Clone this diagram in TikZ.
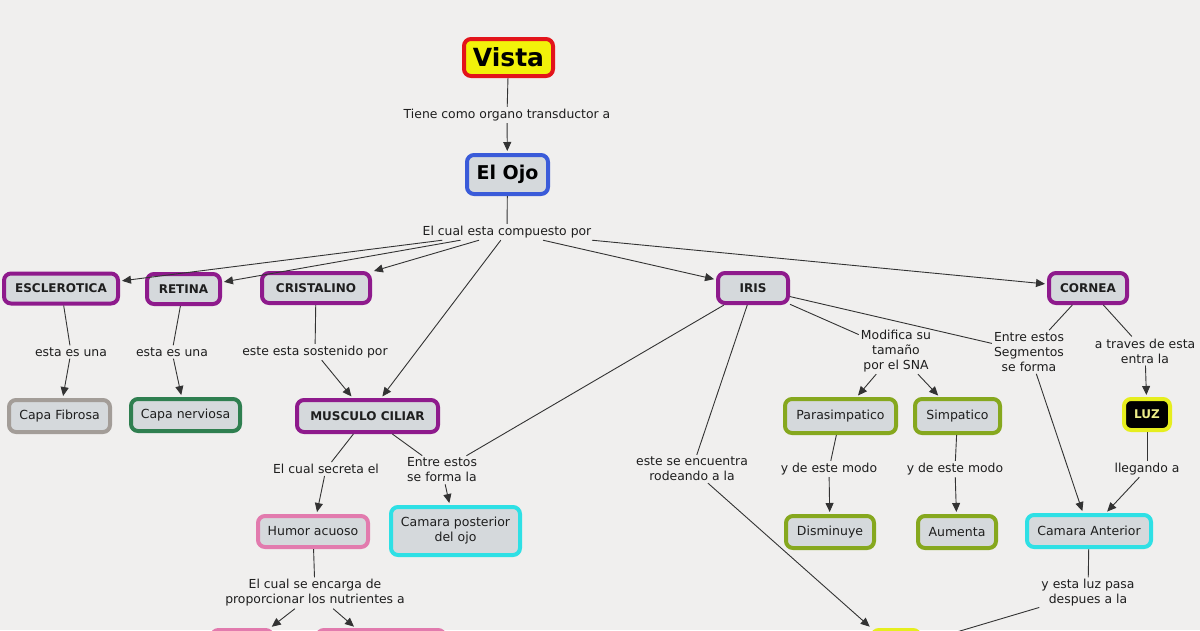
\documentclass[tikz,border=0pt]{standalone}
\usepackage{fontspec}
\setmainfont{DejaVu Sans}
\usetikzlibrary{arrows.meta}
\definecolor{bg}{HTML}{F0EFEE}
\definecolor{boxfill}{HTML}{D5D9DC}
\definecolor{cpurple}{HTML}{8E1A8C}
\definecolor{cred}{HTML}{E3141B}
\definecolor{cyellow}{HTML}{F2F20A}
\definecolor{cluz}{HTML}{E6EE1E}
\definecolor{cluztext}{HTML}{EEEE88}
\definecolor{cblue}{HTML}{3A5BD9}
\definecolor{cgray}{HTML}{A39D98}
\definecolor{cgreen}{HTML}{2F7F50}
\definecolor{cpink}{HTML}{E27BAE}
\definecolor{ccyan}{HTML}{2EE0E5}
\definecolor{colive}{HTML}{86A81E}
\definecolor{cline}{HTML}{333333}
\definecolor{ctxt}{HTML}{1E1E1E}
\begin{document}
\begin{tikzpicture}[x=1pt,y=-1pt,
  box/.style={draw=#1, line width=4pt, fill=boxfill, rounded corners=7pt, inner sep=0pt,
    font=\fontsize{12.5}{15}\selectfont, text=ctxt, align=center},
  bbox/.style={box=#1, font=\bfseries\fontsize{12}{14}\selectfont},
  lbl/.style={font=\fontsize{12.4}{15}\selectfont, align=center, text=ctxt, inner sep=2pt},
  conn/.style={draw=cline, line width=0.9pt},
  arr/.style={conn, -{Triangle[length=9pt,width=8pt]}, shorten >=2pt}]
\useasboundingbox (0,0) rectangle (1200,630);
\fill[bg] (0,0) rectangle (1200,630);
\clip (0,0) rectangle (1200,630);

% concept nodes
\node[box=cred, fill=cyellow, font=\bfseries\fontsize{25}{28}\selectfont, text=black, minimum width=89pt, minimum height=37pt] (vista) at (508.5,57.5) {Vista};
\node[box=cblue, font=\bfseries\fontsize{19}{22}\selectfont, text=black, minimum width=81pt, minimum height=39pt] (ojo) at (507.5,174.5) {El Ojo};
\node[bbox=cpurple, minimum width=114pt, minimum height=30pt] (escl) at (61,288.5) {ESCLEROTICA};
\node[bbox=cpurple, minimum width=73pt, minimum height=30pt] (ret) at (183.5,289) {RETINA};
\node[bbox=cpurple, minimum width=108pt, minimum height=30pt] (cris) at (316,288) {CRISTALINO};
\node[bbox=cpurple, minimum width=70pt, minimum height=30pt] (iris) at (753,288) {IRIS};
\node[bbox=cpurple, minimum width=78pt, minimum height=30pt] (corn) at (1088,288) {CORNEA};
\node[box=cgray, minimum width=101pt, minimum height=32pt] (fib) at (59.5,416) {Capa Fibrosa};
\node[box=cgreen, minimum width=109pt, minimum height=32pt] (nerv) at (185.5,415) {Capa nerviosa};
\node[bbox=cpurple, minimum width=141pt, minimum height=32pt] (musc) at (367.5,416) {MUSCULO CILIAR};
\node[box=cpink, minimum width=110pt, minimum height=31pt] (humor) at (313,531.5) {Humor acuoso};
\node[box=ccyan, minimum width=129pt, minimum height=48pt] (cpost) at (455.5,531) {Camara posterior\\del ojo};
\node[box=colive, minimum width=111pt, minimum height=34pt] (para) at (840.5,416) {Parasimpatico};
\node[box=colive, minimum width=85pt, minimum height=34pt] (simp) at (957.5,416) {Simpatico};
\node[box=colive, minimum width=88pt, minimum height=32pt] (dism) at (830,532) {Disminuye};
\node[box=colive, minimum width=78pt, minimum height=32pt] (aum) at (957,532) {Aumenta};
\node[bbox=cluz, fill=black, text=cluztext, minimum width=46pt, minimum height=31pt] (luz) at (1147,414.5) {LUZ};
\node[box=ccyan, minimum width=124pt, minimum height=32pt] (cant) at (1089,531) {Camara Anterior};
\node[box=cpink, minimum width=61pt, minimum height=40pt] (pinkA) at (242,650) {};
\node[box=cpink, minimum width=128pt, minimum height=40pt] (pinkB) at (381,650) {};
\node[box=cluz, minimum width=48pt, minimum height=40pt] (yel) at (896,650) {};

% linking phrases
\node[lbl] (l1) at (507,115) {Tiene como organo transductor a};
\node[lbl] (l2) at (507,232) {El cual esta compuesto por};
\node[lbl] (l3) at (71,352) {esta es una};
\node[lbl] (l4) at (172,352) {esta es una};
\node[lbl] (l5) at (315,352) {este esta sostenido por};
\node[lbl] (l6) at (326,469) {El cual secreta el};
\node[lbl] (l7) at (442,470) {Entre estos\\se forma la};
\node[lbl] (l8) at (315,593) {El cual se encarga de\\proporcionar los nutrientes a};
\node[lbl] (l9) at (692,469) {este se encuentra\\rodeando a la};
\node[lbl] (l10) at (896,351) {Modifica su\\tamaño\\por el SNA};
\node[lbl] (l11) at (829,469) {y de este modo};
\node[lbl] (l12) at (955,469) {y de este modo};
\node[lbl] (l13) at (1029,352) {Entre estos\\Segmentos\\se forma};
\node[lbl] (l14) at (1145,351) {a traves de esta\\entra la};
\node[lbl] (l15) at (1147,469) {llegando a};
\node[lbl] (l16) at (1088,593) {y esta luz pasa\\despues a la};

% connectors
\draw[conn] (vista) -- (l1);
\draw[arr] (l1) -- (ojo);
\draw[conn] (ojo) -- (l2);
\foreach \t in {escl,ret,cris,musc,iris,corn} \draw[arr] (l2) -- (\t);
\draw[conn] (escl) -- (l3); \draw[arr] (l3) -- (fib);
\draw[conn] (ret) -- (l4); \draw[arr] (l4) -- (nerv);
\draw[conn] (cris) -- (l5); \draw[arr] (l5) -- (musc);
\draw[conn] (musc) -- (l6); \draw[arr] (l6) -- (humor);
\draw[conn] (musc) -- (l7); \draw[conn] (iris) -- (l7); \draw[arr] (l7) -- (cpost);
\draw[conn] (humor) -- (l8); \draw[arr] (l8) -- (pinkA); \draw[arr] (l8) -- (pinkB);
\draw[conn] (iris) -- (l9); \draw[arr] (l9) -- (yel);
\draw[conn] (iris) -- (l10); \draw[arr] (l10) -- (para); \draw[arr] (l10) -- (simp);
\draw[conn] (para) -- (l11); \draw[arr] (l11) -- (dism);
\draw[conn] (simp) -- (l12); \draw[arr] (l12) -- (aum);
\draw[conn] (iris) -- (l13); \draw[conn] (corn) -- (l13); \draw[arr] (l13) -- (cant);
\draw[conn] (corn) -- (l14); \draw[arr] (l14) -- (luz);
\draw[conn] (luz) -- (l15); \draw[arr] (l15) -- (cant);
\draw[conn] (cant) -- (l16); \draw[arr] (l16) -- (yel);
\end{tikzpicture}
\end{document}
